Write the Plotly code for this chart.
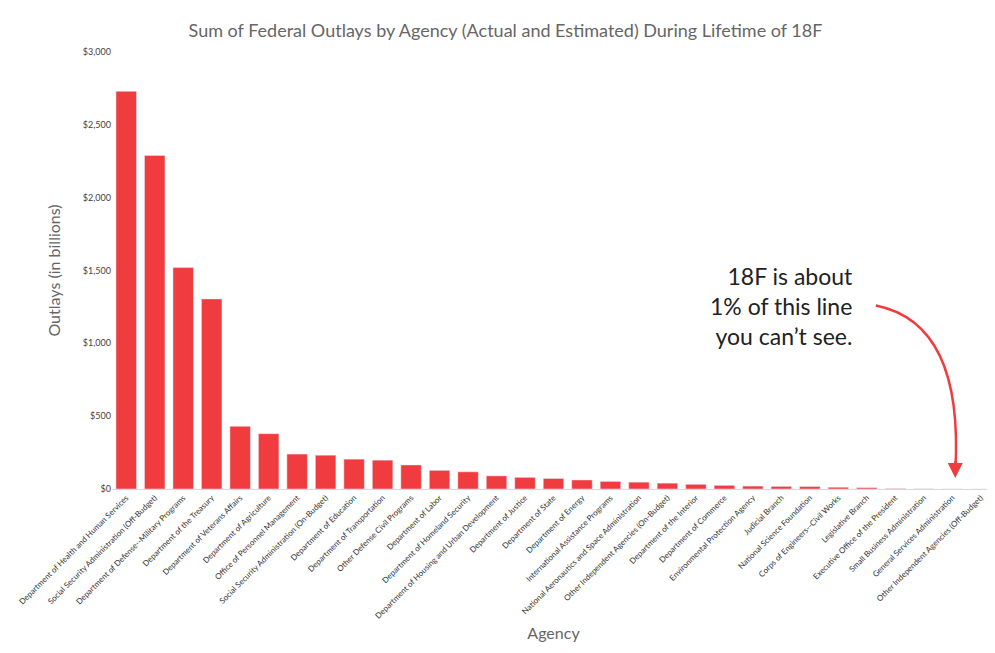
import plotly.graph_objects as go

agencies = [
    "Department of Health and Human Services",
    "Social Security Administration (Off-Budget)",
    "Department of Defense--Military Programs",
    "Department of the Treasury",
    "Department of Veterans Affairs",
    "Department of Agriculture",
    "Office of Personnel Management",
    "Social Security Administration (On-Budget)",
    "Department of Education",
    "Department of Transportation",
    "Other Defense Civil Programs",
    "Department of Labor",
    "Department of Homeland Security",
    "Department of Housing and Urban Development",
    "Department of Justice",
    "Department of State",
    "Department of Energy",
    "International Assistance Programs",
    "National Aeronautics and Space Administration",
    "Other Independent Agencies (On-Budget)",
    "Department of the Interior",
    "Department of Commerce",
    "Environmental Protection Agency",
    "Judicial Branch",
    "National Science Foundation",
    "Corps of Engineers--Civil Works",
    "Legislative Branch",
    "Executive Office of the President",
    "Small Business Administration",
    "General Services Administration",
    "Other Independent Agencies (Off-Budget)",
]
outlays = [2730, 2290, 1520, 1305, 430, 380, 240, 232, 205, 198, 165, 128, 118, 90, 80,
           72, 62, 52, 47, 40, 32, 25, 20, 18, 17, 12, 9, 3, 1, 0.3, -0.5]
y_ticks = [0, 500, 1000, 1500, 2000, 2500, 3000]
y_labels = ["$0", "$500", "$1,000", "$1,500", "$2,000", "$2,500", "$3,000"]

fig = go.Figure(go.Bar(x=agencies, y=outlays, marker_color="#f03c3f", width=0.72))
gray = "#666666"
fig.update_layout(
    width=995, height=653,
    margin=dict(l=104, r=8, t=44, b=172, autoexpand=False),
    plot_bgcolor="white", paper_bgcolor="white",
    font=dict(family="Lato", color=gray),
    title=dict(text="Sum of Federal Outlays by Agency (Actual and Estimated) During Lifetime of 18F",
               x=0.5, xanchor="center", y=0.975, font=dict(size=18, color=gray)),
    showlegend=False,
    bargap=0.28,
)
fig.update_xaxes(tickangle=-45, tickfont=dict(size=8, color="#333"), showgrid=False,
                 showline=True, linecolor="#d9d9d9", automargin=False,
                 title=dict(text="Agency", font=dict(size=16, color=gray), standoff=8))
fig.update_yaxes(range=[0, 3000], tickvals=y_ticks, ticktext=y_labels, automargin=False,
                 tickfont=dict(size=9, color="#444"), showgrid=False, zeroline=False,
                 title=dict(text="Outlays (in billions)", font=dict(size=16, color=gray), standoff=18))

fig.add_annotation(text="18F is about<br>1% of this line<br>you can’t see.",
                   xref="paper", yref="paper", x=0.842, xanchor="right", y=0.418,
                   showarrow=False, font=dict(size=23, color="#222"), align="right")
red = "#f03c3f"
fig.add_shape(type="path", xref="paper", yref="paper",
              path="M 0.865 0.42 Q 0.965 0.38 0.955 0.04",
              line=dict(color=red, width=2.5))
fig.add_annotation(xref="paper", yref="paper", x=0.955, y=0.025, ax=0, ay=-18,
                   text="", showarrow=True, arrowhead=2, arrowsize=1.2,
                   arrowwidth=2.5, arrowcolor=red)

fig.write_html("out.html")
